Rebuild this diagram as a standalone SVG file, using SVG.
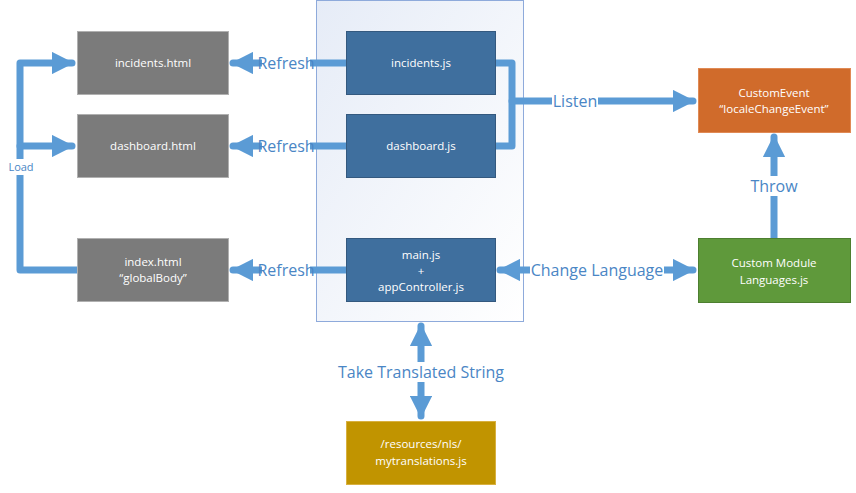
<svg xmlns="http://www.w3.org/2000/svg" width="856" height="493" viewBox="0 0 856 493">
<defs>
<linearGradient id="cg" x1="0" y1="0" x2="1" y2="1"><stop offset="0" stop-color="#e6ecf7"/><stop offset="1" stop-color="#ffffff"/></linearGradient>
<marker id="ah" viewBox="0 0 10 10" refX="9" refY="5" markerWidth="3.2" markerHeight="3.2" orient="auto-start-reverse" markerUnits="strokeWidth"><path d="M0,0 L10,5 L0,10 z" fill="#5b9bd5"/></marker>
</defs>
<style>
.n rect{stroke-width:1}
.t{font-family:"Open Sans","Noto Sans",sans-serif;font-size:11.5px;fill:#fff;text-anchor:middle}
.c path{fill:none;stroke:#5b9bd5;stroke-width:7;stroke-linejoin:round;stroke-linecap:round}
.l{font-family:"Open Sans","Noto Sans",sans-serif;font-size:16px;fill:#4a86c5;text-anchor:middle}
.lb{fill:#fff}
</style>
<rect width="856" height="493" fill="#fff"/>
<rect x="316.5" y="0.5" width="207" height="321" fill="url(#cg)" stroke="#8eaadb"/>
<g class="c">
<path d="M80,270 H20 V63 H72" marker-end="url(#ah)"/>
<path d="M20,146 H72" marker-end="url(#ah)"/>
<path d="M346,63 H233" marker-end="url(#ah)"/>
<path d="M346,146 H233" marker-end="url(#ah)"/>
<path d="M346,270 H233" marker-end="url(#ah)"/>
<path d="M495,63 H512 V146 H495"/>
<path d="M512,101 H693" marker-end="url(#ah)"/>
<path d="M774,238 V137" marker-end="url(#ah)"/>
<path d="M500,270 H693" marker-start="url(#ah)" marker-end="url(#ah)"/>
<path d="M421,326 V416" marker-start="url(#ah)" marker-end="url(#ah)"/>
<rect class="lb" x="5" y="159" width="32" height="16"/>
<text x="21" y="171" font-family="Open Sans,sans-serif" font-size="11" fill="#4a86c5" text-anchor="middle">Load</text>
<rect class="lb" x="262" y="55" width="48" height="18"/><text class="l" x="286" y="69">Refresh</text>
<rect class="lb" x="262" y="138" width="48" height="18"/><text class="l" x="286" y="152">Refresh</text>
<rect class="lb" x="262" y="262" width="48" height="18"/><text class="l" x="286" y="276">Refresh</text>
<rect class="lb" x="552" y="91" width="46" height="20"/><text class="l" x="575" y="107">Listen</text>
<rect class="lb" x="748" y="176" width="52" height="20"/><text class="l" x="774" y="192">Throw</text>
<rect class="lb" x="530" y="260" width="134" height="20"/><text class="l" x="597" y="276">Change Language</text>
<rect class="lb" x="334" y="362" width="174" height="20"/><text class="l" x="421" y="378">Take Translated String</text>
</g>
<g id="incidents-html" class="n"><rect x="77.5" y="31.5" width="151" height="63" fill="#7b7b7b" stroke="#b0b0b0"/><text class="t" x="153" y="67">incidents.html</text></g>
<g id="dashboard-html" class="n"><rect x="77.5" y="114.5" width="151" height="63" fill="#7b7b7b" stroke="#b0b0b0"/><text class="t" x="153" y="150">dashboard.html</text></g>
<g id="index-html" class="n"><rect x="77.5" y="238.5" width="151" height="63" fill="#7b7b7b" stroke="#b0b0b0"/><text class="t" x="153" y="266">index.html</text><text class="t" x="153" y="282">“globalBody”</text></g>
<g id="incidents-js" class="n"><rect x="346.5" y="31.5" width="149" height="63" fill="#3f6f9e" stroke="#34597f"/><text class="t" x="421" y="67">incidents.js</text></g>
<g id="dashboard-js" class="n"><rect x="346.5" y="114.5" width="149" height="63" fill="#3f6f9e" stroke="#34597f"/><text class="t" x="421" y="150">dashboard.js</text></g>
<g id="main-js" class="n"><rect x="346.5" y="238.5" width="149" height="63" fill="#3f6f9e" stroke="#34597f"/><text class="t" x="421" y="259">main.js</text><text class="t" x="421" y="275">+</text><text class="t" x="421" y="291">appController.js</text></g>
<g id="custom-event" class="n"><rect x="698.5" y="68.5" width="152" height="64" fill="#d06b2b" stroke="#e08a55"/><text class="t" x="774" y="97">CustomEvent</text><text class="t" x="774" y="113">“localeChangeEvent”</text></g>
<g id="languages" class="n"><rect x="698.5" y="238.5" width="152" height="64" fill="#5f993b" stroke="#4d7f30"/><text class="t" x="774" y="267">Custom Module</text><text class="t" x="774" y="284">Languages.js</text></g>
<g id="translations" class="n"><rect x="346.5" y="421.5" width="149" height="63" fill="#c19400" stroke="#d8b040"/><text class="t" x="421" y="448">/resources/nls/</text><text class="t" x="421" y="465">mytranslations.js</text></g>
</svg>
